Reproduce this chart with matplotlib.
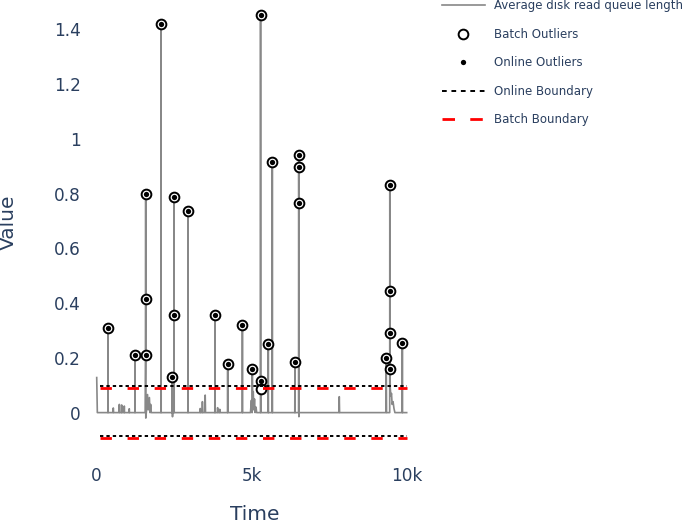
import matplotlib
matplotlib.use("Agg")
import matplotlib.pyplot as plt
from matplotlib.lines import Line2D
from matplotlib.ticker import FixedLocator, FixedFormatter

# ---------------- data ----------------
time = [0, 20,
        360, 365, 370,
        525, 535, 545,
        720, 730, 740,
        798, 805, 812,
        884, 890, 896,
        1044, 1050, 1056,
        1230, 1235, 1240,
        1565, 1575, 1578, 1580, 1583, 1600, 1640, 1660, 1700, 1720, 1740, 1760,
        2070, 2075, 2080,
        2430, 2440, 2445, 2450, 2488, 2492, 2495, 2500,
        2940, 2945, 2950,
        3330, 3340, 3350,
        3400, 3410, 3420, 3480, 3500, 3510,
        3810, 3815, 3820,
        3890, 3900, 3915, 3960, 3970, 3980,
        4220, 4225, 4230,
        4695, 4700, 4705,
        4960, 4990, 5010, 5015, 5020, 5030, 5050, 5070, 5090, 5110, 5140, 5160,
        5283, 5286, 5290, 5293, 5298,
        5530, 5535, 5540,
        5660, 5665, 5670,
        6390, 6395, 6400,
        6512, 6515, 6518, 6520, 6523, 6530,
        7815, 7825, 7835,
        9330, 9340, 9350,
        9452, 9455, 9458, 9460, 9462, 9470, 9490, 9510, 9530, 9560, 9590, 9620,
        9855, 9860, 9865,
        10000]
value = [0.128, 0.0,
         0.0, 0.310, 0.0,
         0.0, 0.017, 0.0,
         0.0, 0.030, 0.0,
         0.0, 0.028, 0.0,
         0.0, 0.024, 0.0,
         0.0, 0.014, 0.0,
         0.0, 0.209, 0.0,
         0.0, 0.209, 0.416, 0.797, -0.020, 0.0, 0.066, 0.010, 0.055, 0.0, 0.030, 0.0,
         0.0, 1.421, 0.0,
         0.0, 0.130, -0.015, 0.0, 0.0, 0.357, 0.789, 0.0,
         0.0, 0.738, 0.0,
         0.0, 0.015, 0.0,
         0.0, 0.040, 0.0, 0.0, 0.064, 0.0,
         0.0, 0.356, 0.0,
         0.0, 0.018, 0.0, 0.0, 0.012, 0.0,
         0.0, 0.176, 0.0,
         0.0, 0.319, 0.0,
         0.0, 0.045, 0.0, 0.0, 0.159, 0.020, 0.077, 0.010, 0.050, 0.0, 0.020, 0.0,
         0.0, 1.452, 0.117, 0.085, 0.0,
         0.0, 0.252, 0.0,
         0.0, 0.916, 0.0,
         0.0, 0.186, 0.0,
         0.0, 0.942, 0.897, 0.765, -0.015, 0.0,
         0.0, 0.058, 0.0,
         0.0, 0.199, 0.0,
         0.0, 0.831, 0.444, 0.289, 0.158, 0.090, 0.060, 0.070, 0.030, 0.040, 0.015, 0.0,
         0.0, 0.256, 0.0,
         0.0]

batch_time = [365, 1235, 1575, 1578, 1580, 2075, 2440, 2492, 2495, 2945, 3815,
              4225, 4700, 5020, 5286, 5290, 5293, 5535, 5665, 6395, 6515, 6518,
              6520, 9340, 9455, 9458, 9460, 9462, 9860]
batch_value = [0.310, 0.209, 0.209, 0.416, 0.797, 1.421, 0.130, 0.357, 0.789,
               0.738, 0.356, 0.176, 0.319, 0.159, 1.452, 0.117, 0.085, 0.252,
               0.916, 0.186, 0.942, 0.897, 0.765, 0.199, 0.831, 0.444, 0.289,
               0.158, 0.256]

online_time = [365, 1235, 1575, 1578, 1580, 2075, 2440, 2492, 2495, 2945, 3815,
               4225, 4700, 5020, 5286, 5290, 5535, 5665, 6395, 6515, 6518,
               6520, 9340, 9455, 9458, 9460, 9462, 9860]
online_value = [0.310, 0.209, 0.209, 0.416, 0.797, 1.421, 0.130, 0.357, 0.789,
                0.738, 0.356, 0.176, 0.319, 0.159, 1.452, 0.117, 0.252,
                0.916, 0.186, 0.942, 0.897, 0.765, 0.199, 0.831, 0.444, 0.289,
                0.158, 0.256]

boundary_time = [110, 10000]
online_upper = [0.096, 0.096]
online_lower = [-0.086, -0.086]
batch_upper = [0.090, 0.090]
batch_lower = [-0.092, -0.092]

x_ticks = [0, 5000, 10000]
x_tick_labels = ["0", "5k", "10k"]
y_ticks = [0, 0.2, 0.4, 0.6, 0.8, 1.0, 1.2, 1.4]
y_tick_labels = ["0", "0.2", "0.4", "0.6", "0.8", "1", "1.2", "1.4"]

# ---------------- figure ----------------
W, H = 685, 524
plt.rcParams['font.family'] = ['DejaVu Sans']
plt.rcParams['lines.scale_dashes'] = False
TXT = '#2a3f5f'

fig = plt.figure(figsize=(W / 100, H / 100), dpi=100)
L, R, T, B = 88, 422, 0, 445
ax = fig.add_axes([L / W, 1 - B / H, (R - L) / W, (B - T) / H])
ax.set_xlim(-281, 10494)
ax.set_ylim(-0.1183, 1.507)

ln, = ax.plot(time, value, color='#888888', lw=1.2, zorder=1, clip_on=False)
bo, = ax.plot(batch_time, batch_value, ls='none', marker='o', ms=7, mew=1.4,
              mec='black', mfc='white', zorder=2, clip_on=False)
oo, = ax.plot(online_time, online_value, ls='none', marker='o', ms=3.8, mew=0,
              mfc='black', zorder=3, clip_on=False)
ax.plot(boundary_time, online_upper, color='black', lw=1.4, dashes=(2.4, 2.2),
        zorder=4)
ax.plot(boundary_time, online_lower, color='black', lw=1.4, dashes=(2.4, 2.2),
        zorder=4)
ax.plot(boundary_time, batch_upper, color='#ff0000', lw=2.0, dashes=(8.2, 11.3),
        zorder=5)
ax.plot(boundary_time, batch_lower, color='#ff0000', lw=2.0, dashes=(8.2, 11.3),
        zorder=5)

for s in ax.spines.values():
    s.set_visible(False)
ax.xaxis.set_major_locator(FixedLocator(x_ticks))
ax.xaxis.set_major_formatter(FixedFormatter(x_tick_labels))
ax.yaxis.set_major_locator(FixedLocator(y_ticks))
ax.yaxis.set_major_formatter(FixedFormatter(y_tick_labels))
ax.tick_params(axis='x', length=0, pad=16, labelsize=12.2, labelcolor=TXT)
ax.tick_params(axis='y', length=0, pad=5, labelsize=12.2, labelcolor=TXT)

fig.text(255 / W, 1 - 515 / H, 'Time', ha='center', va='center',
         fontsize=14.5, color=TXT)
fig.text(8.3 / W, 1 - 222.5 / H, 'Value', ha='center', va='center',
         rotation=90, fontsize=14.5, color=TXT)

# legend handles (plotly-like legend symbols)
h_online_b = Line2D([], [], color='black', lw=1.4, dashes=(3.4, 3.4))
h_batch_b = Line2D([], [], color='#ff0000', lw=2.0, dashes=(9.0, 11.0))
handles = [ln, bo, oo, h_online_b, h_batch_b]
labels = ['Average disk read queue length', 'Batch Outliers', 'Online Outliers',
          'Online Boundary', 'Batch Boundary']
leg = fig.legend(handles, labels, loc='upper left',
                 bbox_to_anchor=(441.7 / W, 1 + 0.5 / H),
                 frameon=False, fontsize=8.5, borderpad=0, borderaxespad=0,
                 handlelength=3.65, handletextpad=0.76, labelspacing=1.31,
                 labelcolor=TXT)

fig.savefig('out.png', dpi=100)
